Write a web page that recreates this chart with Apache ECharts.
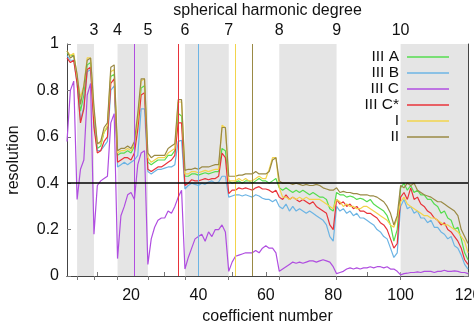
<!DOCTYPE html>
<html><head><meta charset="utf-8">
<script src="https://cdn.jsdelivr.net/npm/echarts@6/dist/echarts.min.js"></script>
<style>html,body{margin:0;padding:0;background:#fff}#c{width:474px;height:325px}</style>
</head><body><div id="c"></div>
<script>
// ---- data ----
const coefficients = Array.from({length: 120}, (_, i) => i + 1);
const seriesNames = ['III A', 'III B', 'III C', 'III C*', 'I', 'II'];
const IIIA = [0.96,0.95,0.95, 0.85,0.71,0.78,0.91,0.92,
  0.68,0.55,0.56,0.62,0.64,0.86,0.87,
  0.52,0.53,0.53,0.54,0.53,0.56,0.66,0.81,0.82,
  0.49,0.48,0.49,0.50,0.50,0.50,0.52,0.52,0.54,0.70,0.69,
  0.43,0.43,0.44,0.44,0.435,0.44,0.445,0.44,0.445,0.45,0.45,0.55,0.54,
  0.41,0.40,0.405,0.41,0.40,0.41,0.41,0.40,0.41,0.42,0.41,0.41,0.40,0.41,0.42,
  0.38,0.37,0.38,0.37,0.36,0.37,0.36,0.37,0.36,0.35,0.36,0.35,0.34,0.34,0.33,0.29,0.28,
  0.36,0.35,0.35,0.34,0.345,0.34,0.33,0.335,0.33,0.32,0.33,0.31,0.30,0.29,0.28,0.26,0.22,0.15,0.20,
  0.38,0.40,0.37,0.39,0.36,0.37,0.35,0.35,0.33,0.33,0.31,0.30,0.27,0.28,0.25,0.24,0.20,0.21,0.16,0.10,0.07];
const IIIB = [0.95,0.93,0.93, 0.83,0.67,0.73,0.88,0.89,
  0.66,0.54,0.54,0.56,0.58,0.80,0.82,
  0.47,0.48,0.49,0.48,0.49,0.50,0.52,0.72,0.72,
  0.45,0.44,0.45,0.46,0.46,0.465,0.47,0.47,0.48,0.58,0.585,
  0.375,0.39,0.40,0.395,0.39,0.40,0.395,0.405,0.41,0.40,0.405,0.43,0.43,
  0.34,0.345,0.35,0.35,0.345,0.35,0.345,0.34,0.35,0.345,0.335,0.33,0.33,0.32,0.33,
  0.30,0.29,0.31,0.28,0.30,0.28,0.29,0.28,0.27,0.28,0.27,0.26,0.25,0.24,0.22,0.17,0.15,
  0.30,0.28,0.29,0.27,0.28,0.26,0.27,0.25,0.25,0.24,0.23,0.22,0.20,0.19,0.17,0.16,0.12,0.08,0.10,
  0.30,0.33,0.29,0.30,0.27,0.28,0.25,0.25,0.23,0.24,0.21,0.21,0.19,0.18,0.16,0.17,0.13,0.12,0.09,0.05,0.03];
const IIIC = [0.58,0.80,0.84, 0.33,0.46,0.50,0.78,0.83,
  0.18,0.39,0.41,0.42,0.43,0.66,0.70,
  0.075,0.26,0.30,0.35,0.36,0.33,0.48,0.53,0.54,
  0.05,0.16,0.21,0.24,0.25,0.25,0.28,0.27,0.30,0.34,0.37,
  0.03,0.08,0.12,0.16,0.17,0.18,0.15,0.19,0.17,0.20,0.20,0.22,0.19,
  0.02,0.06,0.085,0.09,0.095,0.10,0.10,0.10,0.11,0.10,0.12,0.13,0.12,0.12,0.10,
  0.02,0.03,0.04,0.05,0.06,0.055,0.06,0.055,0.06,0.065,0.065,0.06,0.065,0.07,0.065,0.06,0.04,
  0.01,0.015,0.02,0.03,0.035,0.03,0.035,0.03,0.035,0.035,0.04,0.035,0.04,0.04,0.035,0.04,0.03,0.03,0.02,
  0.005,0.01,0.012,0.015,0.015,0.018,0.015,0.02,0.02,0.02,0.015,0.02,0.02,0.025,0.02,0.02,0.022,0.02,0.015,0.015,0.01];
const IIICstar = [0.94,0.92,0.93, 0.83,0.66,0.72,0.89,0.90,
  0.64,0.53,0.54,0.58,0.60,0.83,0.85,
  0.49,0.50,0.51,0.51,0.50,0.53,0.63,0.78,0.79,
  0.46,0.45,0.46,0.47,0.47,0.48,0.49,0.50,0.52,0.66,0.66,
  0.39,0.40,0.415,0.41,0.41,0.415,0.42,0.415,0.42,0.42,0.43,0.53,0.51,
  0.355,0.37,0.37,0.38,0.375,0.38,0.375,0.37,0.38,0.385,0.375,0.375,0.37,0.36,0.37,
  0.34,0.33,0.35,0.33,0.34,0.33,0.32,0.33,0.32,0.31,0.32,0.30,0.29,0.28,0.27,0.22,0.20,
  0.33,0.31,0.32,0.30,0.31,0.29,0.30,0.28,0.28,0.27,0.27,0.26,0.25,0.23,0.22,0.20,0.16,0.12,0.14,
  0.34,0.36,0.33,0.38,0.33,0.34,0.31,0.30,0.28,0.27,0.25,0.24,0.22,0.23,0.20,0.19,0.17,0.15,0.12,0.07,0.05];
const I = [0.97,0.95,0.96, 0.86,0.77,0.82,0.94,0.94,
  0.71,0.57,0.57,0.62,0.65,0.88,0.89,
  0.53,0.54,0.54,0.55,0.54,0.57,0.67,0.84,0.85,
  0.51,0.49,0.50,0.51,0.51,0.51,0.53,0.54,0.55,0.75,0.75,
  0.44,0.44,0.45,0.45,0.445,0.45,0.455,0.45,0.455,0.46,0.46,0.65,0.64,
  0.41,0.41,0.41,0.42,0.41,0.42,0.41,0.41,0.42,0.43,0.42,0.42,0.46,0.51,0.51,
  0.38,0.34,0.34,0.33,0.34,0.33,0.34,0.33,0.34,0.33,0.33,0.33,0.33,0.32,0.31,0.30,0.29,
  0.33,0.32,0.30,0.31,0.30,0.30,0.29,0.29,0.30,0.30,0.29,0.28,0.27,0.26,0.25,0.24,0.22,0.21,0.25,
  0.32,0.34,0.31,0.30,0.29,0.28,0.27,0.26,0.26,0.25,0.25,0.24,0.23,0.22,0.22,0.21,0.20,0.19,0.17,0.15,0.10];
const II = [0.97,0.94,0.95, 0.87,0.74,0.82,0.93,0.94,
  0.73,0.57,0.58,0.64,0.66,0.90,0.91,
  0.54,0.55,0.55,0.56,0.55,0.58,0.70,0.85,0.85,
  0.53,0.51,0.52,0.52,0.52,0.52,0.55,0.56,0.57,0.76,0.76,
  0.455,0.46,0.46,0.465,0.46,0.47,0.47,0.47,0.475,0.48,0.48,0.64,0.64,
  0.43,0.43,0.43,0.435,0.435,0.44,0.44,0.44,0.45,0.44,0.44,0.44,0.45,0.50,0.51,
  0.41,0.40,0.40,0.40,0.395,0.40,0.395,0.39,0.395,0.39,0.39,0.395,0.39,0.38,0.375,0.37,0.37,
  0.38,0.36,0.365,0.36,0.36,0.355,0.355,0.35,0.35,0.35,0.345,0.345,0.34,0.33,0.32,0.30,0.27,0.22,0.26,
  0.39,0.38,0.40,0.39,0.40,0.37,0.36,0.35,0.345,0.34,0.33,0.32,0.32,0.31,0.30,0.29,0.28,0.26,0.20,0.17,0.14];
const seriesValues = [IIIA, IIIB, IIIC, IIICstar, I, II];
// cutoff coefficient per series (null = none drawn)
const cutoffs = [null, 40, 21, 34, 51, 56];
const threshold = 0.4;
const degrees = [2, 3, 4, 5, 6, 7, 8, 9, 10];
const degreeLabels = [3, 4, 5, 6, 7, 8, 9, 10];
const shadedDegrees = [2, 4, 6, 8, 10];
const xTickLabels = [20, 40, 60, 80, 100, 120];
const xTicks = [10, 20, 30, 40, 50, 60, 70, 80, 90, 100, 110, 120];

// ---- styles ----
const colors = ['#55dd4f', '#6cb4e4', '#b04ee0', '#e8333a', '#f2d44c', '#9a8a45'];
const FONT = 'Liberation Sans, Arial, sans-serif';
const axisColor = '#444';
const txt = '#111';

const chart = echarts.init(document.getElementById('c'), null, {renderer: 'canvas'});
const series = [];
series.push({
  type: 'line', name: '_bands', data: [], silent: true, z: 1,
  markArea: {
    silent: true,
    itemStyle: {color: '#e5e5e5'},
    data: shadedDegrees.map(n => [{xAxis: n * n}, {xAxis: Math.min((n + 1) * (n + 1), 121)}])
  }
});
seriesNames.forEach((name, k) => {
  const s = {
    type: 'line', name, z: 3,
    data: coefficients.map((c, i) => [c, seriesValues[k][i]]),
    showSymbol: false, symbol: 'none',
    lineStyle: {width: 1.2, color: colors[k]},
    itemStyle: {color: colors[k]},
    emphasis: {disabled: true}
  };
  if (cutoffs[k] != null) {
    s.markLine = {
      silent: true, symbol: 'none', label: {show: false},
      lineStyle: {color: colors[k], width: 1, type: 'solid'},
      data: [{xAxis: cutoffs[k]}]
    };
  }
  series.push(s);
});
series.push({
  type: 'line', name: '_thr', data: [], z: 5, silent: true,
  markLine: {
    silent: true, symbol: 'none', label: {show: false},
    lineStyle: {color: '#000', width: 1.5, type: 'solid'},
    data: [{yAxis: threshold}]
  }
});

chart.setOption({
  animation: false,
  backgroundColor: '#fff',
  grid: {left: 67, right: 6, top: 44, bottom: 49, containLabel: false, outerBoundsMode: 'none'},
  legend: {
    data: seriesNames,
    orient: 'vertical', right: 25, top: 49, align: 'right',
    itemWidth: 42, itemHeight: 1.6, itemGap: 0, icon: 'rect',
    padding: 0,
    textStyle: {fontFamily: FONT, fontSize: 15.5, color: txt, lineHeight: 15.4, padding: [0, 3, 0, 0]}
  },
  xAxis: [{
    type: 'value', position: 'bottom', min: 1, max: 120,
    name: 'coefficient number', nameLocation: 'middle', nameGap: 31,
    nameTextStyle: {fontFamily: FONT, fontSize: 16, color: txt},
    axisLine: {show: true, lineStyle: {color: axisColor, width: 1}},
    axisTick: {show: true, inside: true, length: 4, customValues: xTicks, lineStyle: {color: '#777'}},
    axisLabel: {show: true, customValues: xTickLabels, margin: 12, fontFamily: FONT, fontSize: 16, color: txt},
    splitLine: {show: false}
  }, {
    type: 'value', position: 'top', min: 1, max: 120,
    name: 'spherical harmonic degree', nameLocation: 'middle', nameGap: 25,
    nameTextStyle: {fontFamily: FONT, fontSize: 16, color: txt},
    axisLine: {show: true, lineStyle: {color: axisColor, width: 1}},
    axisTick: {show: true, inside: true, length: 4, customValues: degrees.map(n => n * n), lineStyle: {color: '#777'}},
    axisLabel: {show: true, customValues: degreeLabels.map(n => n * n), margin: 5,
      formatter: v => String(Math.round(Math.sqrt(v))), fontFamily: FONT, fontSize: 16, color: txt},
    splitLine: {show: false}
  }],
  yAxis: [{
    type: 'value', position: 'left', min: 0, max: 1, interval: 0.2,
    name: 'resolution', nameLocation: 'middle', nameGap: 45, nameRotate: 90,
    nameTextStyle: {fontFamily: FONT, fontSize: 16, color: txt},
    axisLine: {show: true, lineStyle: {color: axisColor, width: 1}},
    axisTick: {show: true, inside: true, length: 4, lineStyle: {color: '#777'}},
    axisLabel: {margin: 8, fontFamily: FONT, fontSize: 16, color: txt},
    splitLine: {show: false}
  }, {
    type: 'value', position: 'right', min: 0, max: 1, interval: 0.2,
    axisLine: {show: true, lineStyle: {color: axisColor, width: 1}},
    axisTick: {show: true, inside: true, length: 4, lineStyle: {color: '#777'}},
    axisLabel: {show: false},
    splitLine: {show: false}
  }],
  series
});
</script></body></html>
